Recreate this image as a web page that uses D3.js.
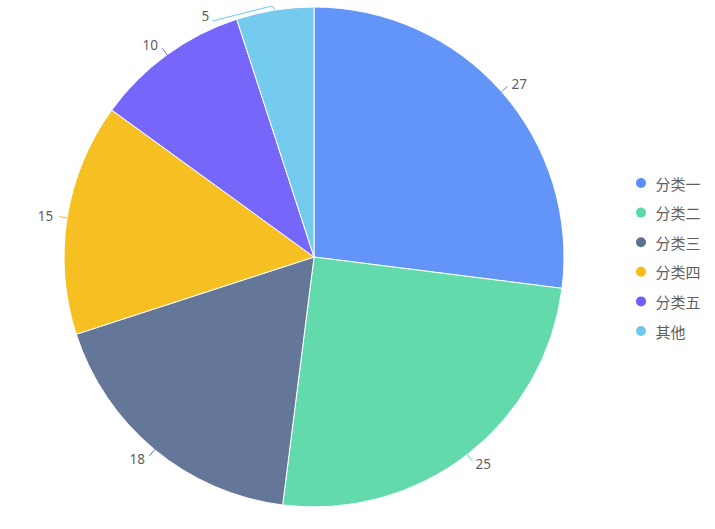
<!DOCTYPE html>
<html><head><meta charset="utf-8">
<script src="https://cdn.jsdelivr.net/npm/d3@7"></script>
<style>
html,body{margin:0;padding:0;background:#fff;}
svg{display:block;font-family:"Noto Sans","Noto Sans CJK SC",sans-serif;}
</style></head>
<body>
<svg id="chart" width="715" height="529"></svg>
<script>
const categories = ["分类一","分类二","分类三","分类四","分类五","其他"];
const values = [27, 25, 18, 15, 10, 5];
const colors = ["#5B8FF9","#5AD8A6","#5D7092","#F6BD16","#6F5EF9","#6DC8EC"];

const svg = d3.select("#chart");
const cx = 314, cy = 257, R = 250;
const g = svg.append("g").attr("transform", `translate(${cx},${cy})`);

const data = categories.map((c,i)=>({cat:c, value:values[i], color:colors[i]}));
const pie = d3.pie().value(d=>d.value).sort(null);
const arcs = pie(data);
const arc = d3.arc().innerRadius(0).outerRadius(R);

g.selectAll("path.slice").data(arcs).join("path")
  .attr("class","slice")
  .attr("d", arc)
  .attr("fill", d=>d.data.color)
  .attr("fill-opacity", 0.95)
  .attr("stroke", "#fff")
  .attr("stroke-width", 1);

// labels
const labelR = R + 12, minY = -cy + 16;
function pt(a, r){ return [r*Math.sin(a), -r*Math.cos(a)]; }
arcs.forEach(d=>{
  const a = (d.startAngle + d.endAngle)/2;
  const right = Math.sin(a) >= 0;
  const e = pt(a, R);
  let l = pt(a, labelR);
  if (l[1] < minY) {
    const y = minY;
    const x = (right?1:-1)*Math.sqrt(labelR*labelR - y*y);
    l = [x, y];
    const m = pt(a, R + 4);
    const p = d3.path();
    p.moveTo(e[0], e[1]);
    p.quadraticCurveTo(m[0], m[1], m[0]-5, m[1]+0.5);
    p.lineTo(x+1, y+5);
    g.append("path").attr("d", p.toString()).attr("fill","none")
      .attr("stroke", d.data.color).attr("stroke-width",1);
  } else {
    const m = pt(a, R + 8);
    g.append("line").attr("x1",e[0]).attr("y1",e[1]).attr("x2",m[0]).attr("y2",m[1])
      .attr("stroke", d.data.color).attr("stroke-width",1);
  }
  g.append("text")
    .attr("x", l[0] + (right?1:-2)).attr("y", l[1])
    .attr("text-anchor", right ? "start" : "end")
    .attr("dominant-baseline","central")
    .attr("font-size", 13.5)
    .attr("fill", "#5f5f5f")
    .text(d.data.value);
});

// legend
const legendY = d3.scalePoint().domain(categories).range([183, 331]);
const lg = svg.append("g");
const items = lg.selectAll("g").data(data).join("g")
  .attr("transform", d=>`translate(641,${legendY(d.cat)})`);
items.append("circle").attr("r",5).attr("fill", d=>d.color);
items.append("text").attr("x", 14.5).attr("y", 0)
  .attr("dominant-baseline","central")
  .attr("font-size", 15).attr("fill", "#5f5f5f")
  .attr("font-family", "'Noto Sans CJK SC', sans-serif")
  .text(d=>d.cat);
</script>
</body></html>
